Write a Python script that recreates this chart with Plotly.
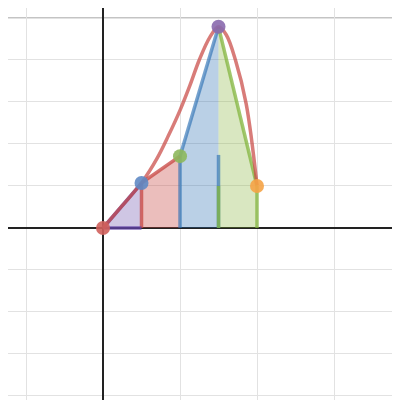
import plotly.graph_objects as go

# sample points
xs = [0, 0.5, 1, 1.5, 2]
ys = [0, 1.07, 1.71, 4.79, 1.0]
pt_colors = ['#d0605c', '#5f8ac4', '#8db85c', '#8a6aae', '#f5a346']

# red curve
curve_x = [0, 0.25, 0.51, 0.7, 0.85, 1.0, 1.13, 1.25, 1.39, 1.5, 1.6, 1.72, 1.86, 2.0]
curve_y = [0, 0.53, 1.10, 1.65, 2.2, 2.8, 3.4, 4.0, 4.55, 4.79, 4.6, 4.0, 2.95, 1.02]

# mid markers at x=1.5
mid_blue = 1.74
mid_green = 1.0

fill_cols = ['rgba(96,66,166,0.3)', 'rgba(199,68,64,0.35)', 'rgba(45,112,179,0.33)', 'rgba(130,175,50,0.3)']
line_cols = ['rgba(96,66,166,0.75)', 'rgba(199,68,64,0.75)', 'rgba(45,112,179,0.65)', 'rgba(130,180,60,0.75)']

fig = go.Figure()

for i in range(4):
    fig.add_trace(go.Scatter(x=[xs[i], xs[i], xs[i+1], xs[i+1]], y=[0, ys[i], ys[i+1], 0],
                             fill='toself', fillcolor=fill_cols[i], mode='none', hoverinfo='skip'))

# vertical segments
segs = [(0.5, ys[1], line_cols[1]), (1, ys[2], line_cols[2]), (1.5, mid_blue, line_cols[2]),
        (1.5, mid_green, line_cols[3]), (2, ys[4], line_cols[3])]
for sx, sy, c in segs:
    fig.add_trace(go.Scatter(x=[sx, sx], y=[0, sy], mode='lines', line=dict(color=c, width=3.5)))

fig.add_trace(go.Scatter(x=[0, 0.5], y=[0, 0], mode='lines', line=dict(color=line_cols[0], width=3.5)))
for i in range(4):
    fig.add_trace(go.Scatter(x=xs[i:i+2], y=ys[i:i+2], mode='lines', line=dict(color=line_cols[i], width=3.5)))

fig.add_trace(go.Scatter(x=curve_x, y=curve_y, mode='lines',
                         line=dict(color='rgba(199,68,64,0.7)', width=3.5, shape='spline', smoothing=1.0)))

fig.add_trace(go.Scatter(x=xs, y=ys, mode='markers', marker=dict(color=pt_colors, size=14, opacity=0.9)))

# page has an 8px body margin, ranges offset to compensate
fig.update_layout(
    width=400, height=400, margin=dict(l=0, r=0, t=0, b=0),
    plot_bgcolor='white', paper_bgcolor='white', showlegend=False,
    xaxis=dict(range=[-1.234, 3.961], dtick=1, showgrid=True, gridcolor='#e2e2e2', zeroline=True,
               zerolinecolor='#222', zerolinewidth=2, showticklabels=False),
    yaxis=dict(range=[-4.286, 5.238], dtick=1, showgrid=True, gridcolor='#e2e2e2', zeroline=True,
               zerolinecolor='#222', zerolinewidth=2, showticklabels=False),
)
fig.add_hline(y=5, line=dict(color='#b0b0b0', width=1.5), layer='below')
fig.write_html("out.html")
